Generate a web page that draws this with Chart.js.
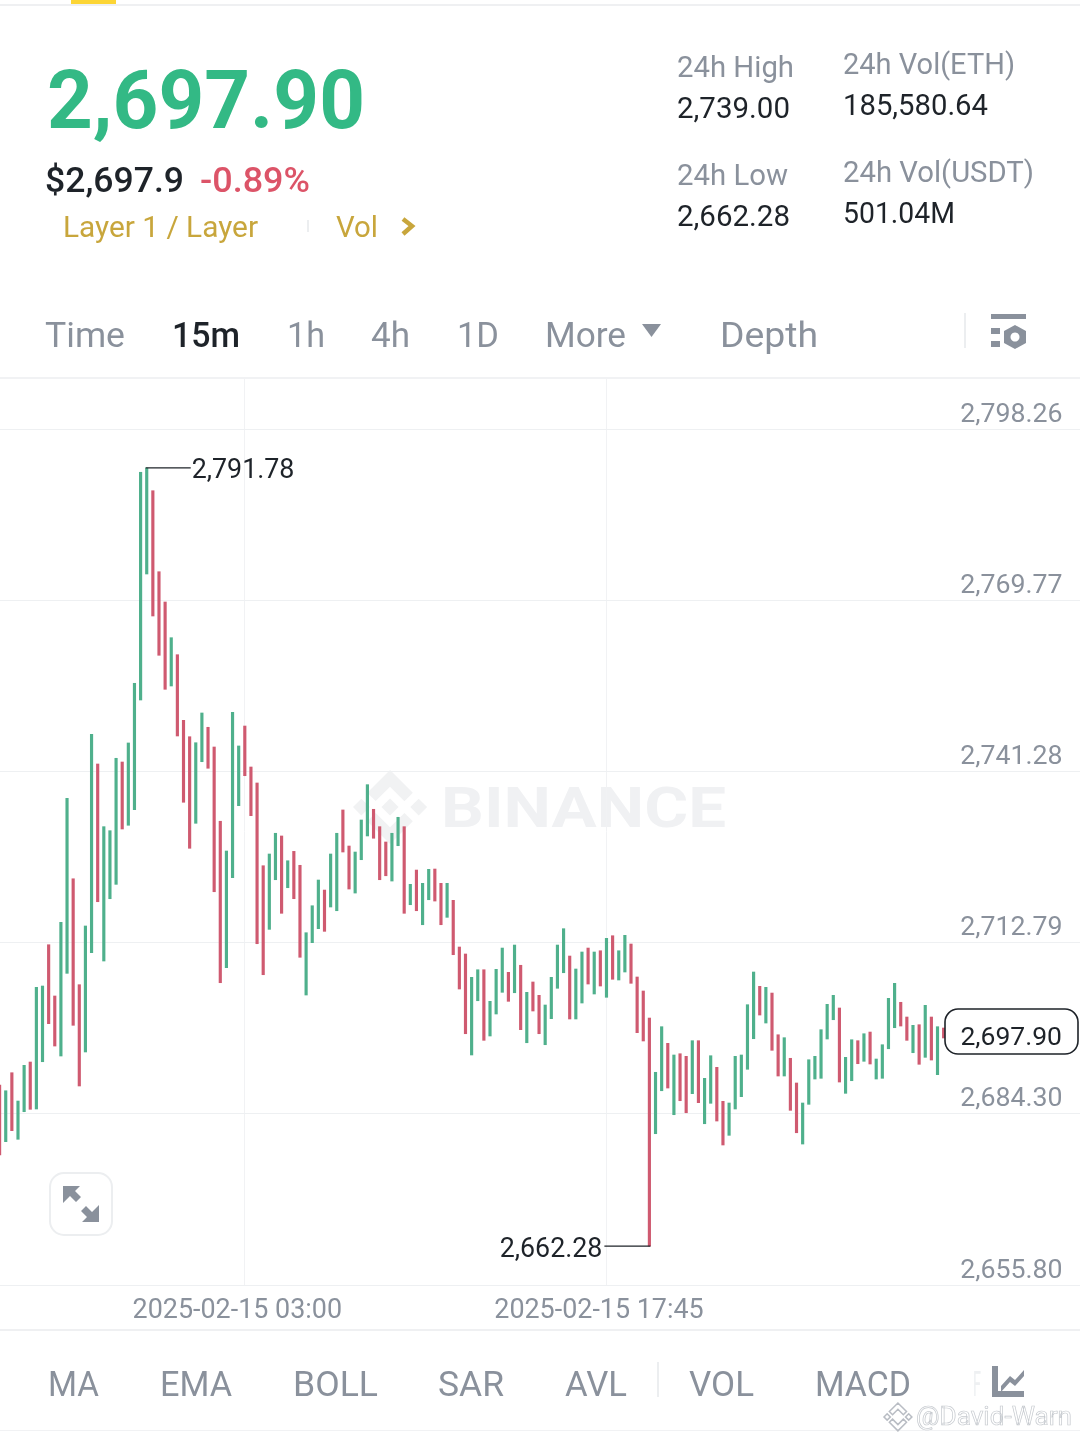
<!DOCTYPE html>
<html><head><meta charset="utf-8">
<script src="https://cdn.jsdelivr.net/npm/chart.js@4"></script>
<style>
html,body{margin:0;padding:0;background:#fff;width:1080px;height:1437px;overflow:hidden;font-family:Roboto,sans-serif}
#stage{position:relative;width:1080px;height:1437px;overflow:hidden}
#chart{position:absolute;left:0;top:0;z-index:1}
.t{position:absolute;white-space:nowrap;line-height:1;transform-origin:0 50%;z-index:2}
.r{position:absolute;z-index:2}
svg{position:absolute;z-index:2;overflow:visible}
</style></head><body><div id="stage">
<div class="r" style="left:0;top:4px;width:1080px;height:2px;background:#eff0f2"></div>
<div class="r" style="left:71px;top:0;width:45px;height:4px;background:#fcd535"></div>
<div class="r" style="left:307px;top:220px;width:2px;height:12px;background:#eceef0"></div>
<div class="r" style="left:964px;top:313px;width:2px;height:35px;background:#eceef0"></div>
<div class="r" style="left:0;top:377px;width:1080px;height:2px;background:#f1f2f4"></div>
<div class="r" style="left:0;top:1329px;width:1080px;height:2px;background:#eff0f2"></div>
<div class="r" style="left:0;top:1430px;width:1080px;height:1px;background:#f1f2f4"></div>
<div class="r" style="left:657px;top:1362px;width:2px;height:35px;background:#eceef0"></div>
<div class="r" style="left:49px;top:1172px;width:60px;height:60px;border:2px solid #eceef0;border-radius:15px;background:#fff;padding:0"></div>
<svg style="left:0;top:0" width="1080" height="1437" viewBox="0 0 1080 1437">
  <path d="M403 219l9 7-9 8" fill="none" stroke="#c8a63c" stroke-width="4.500"/>
  <path d="M642 324h19l-9.500 13z" fill="#8a919c"/>
  <g fill="#8a919c">
    <rect x="991" y="314" width="35" height="5"/>
    <rect x="991" y="328" width="9" height="6"/>
    <rect x="991" y="341" width="9" height="6"/>
    <path fill-rule="evenodd" d="M1015 325l11 6v12l-11 6-11-6v-12zM1015 332.500a4.500 4.500 0 1 0 .01 0z"/>
  </g>
  <g fill="#8a919c">
    <path d="M63 1186h17l-5 5 6 6-5 5-6-6-7 7z"/>
    <path d="M99 1222h-17l5-5-6-6 5-5 6 6 7-7z"/>
  </g>
  <g fill="#8a919c">
    <path d="M992 1366h6v25h26v6h-32z"/>
    <path d="M1001 1386l9-10 5 4 9-10v6l-9 10-5-4-9 10z"/>
  </g>
  <g transform="translate(884 1403) scale(.22)" fill="none" stroke="#b9bdc4" stroke-width="7">
    <path d="M38.730 53.200l24.590-24.580 24.600 24.600 14.300-14.310L63.320 0 24.420 38.900l14.310 14.300zM0 63.310l14.300-14.310 14.310 14.310-14.310 14.300zM38.730 73.410l24.590 24.590 24.600-24.600 14.310 14.290-38.900 38.910-38.910-38.880zM98 63.310l14.300-14.310 14.310 14.300-14.310 14.320z"/>
  </g>
</svg>
<svg style="left:0;top:0;z-index:0" width="1080" height="1437" viewBox="0 0 1080 1437">
  <g transform="translate(353 770) scale(.585)" fill="#f1f2f3">
    <path d="M38.730 53.200l24.590-24.580 24.600 24.600 14.300-14.310L63.320 0 24.420 38.900l14.310 14.300zM0 63.310l14.300-14.310 14.310 14.310-14.310 14.300zM38.730 73.410l24.590 24.590 24.600-24.600 14.310 14.290-38.900 38.910-38.910-38.880zM98 63.310l14.300-14.310 14.310 14.300-14.310 14.320zM77.830 63.300L63.320 48.780 52.590 59.510l-1.240 1.230-2.540 2.540 14.510 14.500 14.510-14.470z"/>
  </g>
</svg>
<canvas id="chart" width="1080" height="1437"></canvas>
</div>
<script>
// ---- chart data ----
const candleHigh = [
2689.08,2688.13,2691.13,2686.42,2692.36,2692.91,2705.34,2705.56,2712.43,2703.90,
2716.16,2736.80,2723.41,2705.78,2715.55,2747.45,2742.51,2732.08,2731.41,2743.46,
2742.84,2746.01,2755.94,2791.06,2791.78,2787.99,2774.51,2769.47,2763.53,2760.70,
2749.78,2747.05,2746.05,2751.00,2748.62,2745.34,2732.98,2728.03,2751.11,2745.51,
2748.83,2742.01,2739.35,2725.58,2727.53,2730.98,2730.53,2726.41,2727.97,2725.65,
2714.43,2718.92,2723.20,2721.53,2727.53,2730.98,2734.86,2728.86,2727.86,2733.19,
2739.07,2734.97,2732.08,2729.53,2730.98,2733.64,2732.08,2722.48,2724.86,2722.65,
2724.98,2725.03,2722.65,2722.65,2719.82,2712.05,2710.89,2707.01,2708.27,2708.27,
2703.01,2708.34,2711.88,2707.84,2712.38,2709.01,2704.51,2706.23,2704.01,2702.40,
2707.01,2712.38,2715.10,2710.55,2708.39,2711.22,2711.88,2711.22,2711.43,2713.50,
2713.93,2711.43,2714.00,2712.55,2707.06,2704.73,2700.23,2691.20,2698.79,2696.02,
2694.08,2694.29,2693.86,2696.46,2696.46,2690.20,2693.96,2692.03,2686.37,2686.09,
2693.86,2694.08,2702.45,2707.89,2705.51,2705.34,2704.39,2697.45,2696.96,2693.53,
2689.42,2686.09,2693.29,2693.86,2698.29,2702.51,2704.01,2701.90,2693.69,2696.62,
2696.46,2697.62,2697.90,2693.41,2695.79,2703.51,2706.01,2702.85,2700.40,2699.02,
2699.12,2702.35,2700.40,2698.79,2698.57];
const candleLow = [
2677.43,2679.65,2681.48,2680.05,2684.64,2685.04,2685.09,2692.96,2699.29,2695.57,
2693.91,2707.67,2699.02,2688.92,2694.58,2711.10,2719.59,2709.72,2720.09,2722.48,
2731.69,2732.31,2734.91,2753.16,2774.13,2767.14,2760.60,2754.94,2755.49,2747.17,
2736.14,2728.48,2732.64,2742.89,2741.80,2721.25,2706.11,2708.61,2723.58,2735.57,
2740.56,2733.91,2712.60,2707.44,2714.99,2723.25,2717.66,2721.92,2720.09,2710.34,
2704.06,2712.77,2715.10,2714.66,2718.71,2718.09,2727.86,2721.70,2721.03,2726.58,
2730.53,2730.15,2723.25,2723.91,2723.03,2728.91,2717.66,2719.09,2718.09,2715.76,
2719.92,2719.70,2715.76,2716.99,2710.77,2705.06,2697.62,2694.08,2703.11,2696.52,
2697.24,2700.90,2704.51,2703.01,2704.44,2698.29,2696.12,2701.40,2697.62,2695.79,
2700.12,2705.18,2707.77,2700.07,2700.07,2702.73,2705.89,2704.23,2705.56,2703.68,
2706.68,2706.56,2707.89,2706.01,2697.79,2696.41,2662.28,2680.98,2688.13,2688.58,
2684.14,2686.47,2684.47,2687.64,2686.14,2682.64,2686.04,2683.09,2679.10,2680.71,
2685.09,2687.14,2691.70,2696.79,2700.73,2699.40,2694.86,2690.58,2690.58,2684.87,
2681.14,2679.26,2685.87,2690.08,2690.20,2696.74,2699.95,2689.58,2687.70,2689.80,
2692.63,2693.03,2692.58,2690.08,2690.20,2695.12,2698.62,2698.90,2696.52,2694.46,
2692.53,2693.69,2693.24,2690.80,2696.91];
const candleDirection = (
"r g r g g r g g r r " + "g g r r g g r g g g " + "r g g g g r r r g r " + "r r g g r r r g g g " +
"r r r r g g r g r r " + "g g g r g g r r g g " + "g r r r g g r g r g " + "g r r g r r r g g r " +
"g g g r g r g r r g " + "g g g r g g r g r g " + "r g g r r r r g g r " + "g r r g r g g r r g " +
"g g g g r g r r g r " + "r g g g g g g r g g " + "r g r g g g g r r g " + "r g r g r").trim().split(" ");
const yTickValues = [2798.26,2769.77,2741.28,2712.79,2684.30,2655.80];
const xTickIndexes = [40,99];
const xTickLabels = ["2025-02-15 03:00","2025-02-15 17:45"];
const lastPrice = 2697.90;
const highMark = 2791.78;
const lowMark = 2662.28;

const fmt = v => v.toLocaleString("en-US",{minimumFractionDigits:2,maximumFractionDigits:2});
const UP="#4fb08c", DOWN="#cf5a70", INK="#1e2329", GREY="#8a919c", GRID="#eef0f2";

// ---- header / footer text ----
const texts = [
 ["2,697.90",47,365,99,81,"#33b985",700],
 ["$2,697.9",45,184,179.5,35,INK,500],
 ["-0.89%",200,310,179.5,35,"#dc5468",500],
 ["Layer 1 / Layer",63,258,227,29,"#c8a63c",400],
 ["Vol",336,378,227,29,"#c8a63c",400],
 ["24h High",677,794,67,29,GREY,400],
 ["2,739.00",677,790,108,29,INK,400],
 ["24h Low",677,788,175,29,GREY,400],
 ["2,662.28",677,790,216.5,29,INK,400],
 ["24h Vol(ETH)",843,1015,64,29,GREY,400],
 ["185,580.64",843,988,105.5,29,INK,400],
 ["24h Vol(USDT)",843,1034,172,29,GREY,400],
 ["501.04M",843,955,213,29,INK,400],
 ["Time",45,125,334.500,35,GREY,400],
 ["15m",172,240,334.500,35,INK,500],
 ["1h",287,325,334.500,35,GREY,400],
 ["4h",371,410,334.500,35,GREY,400],
 ["1D",457,499,334.500,35,GREY,400],
 ["More",545,626,334.500,35,GREY,400],
 ["Depth",720,818,334.500,35,GREY,400],
 ["MA",48,99,1383.500,35,GREY,400],
 ["EMA",160,232,1383.500,35,GREY,400],
 ["BOLL",293,378,1383.500,35,GREY,400],
 ["SAR",438,504,1383.500,35,GREY,400],
 ["AVL",565,627,1383.500,35,GREY,400],
 ["VOL",689,754,1383.500,35,GREY,400],
 ["MACD",815,911,1383.500,35,GREY,400],
 ["F",973,981,1383.500,35,"#eef0f2",400],
];
const stage=document.getElementById("stage");
function addText(t,x0,x1,cy,size,color,weight,z,extra){
  const s=document.createElement("span");
  s.className="t"; s.textContent=t;
  s.style.cssText=`left:${x0}px;top:${cy-0.485*size}px;font-size:${size}px;color:${color};font-weight:${weight};`+(z!==undefined?`z-index:${z};`:"")+(extra||"");
  stage.appendChild(s);
  const w=s.getBoundingClientRect().width;
  s.style.transform=`scaleX(${(x1-x0)/w})`;
}
texts.forEach(a=>addText(...a));
addText("BINANCE",441,726,807,56,"#f0f1f3",700,0);
addText("@David-Warn",916,1072,1416,26,"#ffffff",400,2,"-webkit-text-stroke:.7px #c6cacf;");

// ---- chart ----
const annotate = {
  id:"annotate",
  afterDatasetsDraw(c){
    const g=c.ctx, xs=c.scales.x, ys=c.scales.y;
    const hiI=candleHigh.indexOf(highMark), loI=candleLow.indexOf(lowMark);
    g.save();
    g.font="400 26.8px Roboto"; g.fillStyle=INK; g.strokeStyle=INK; g.lineWidth=1.3; g.textBaseline="middle";
    const hx=xs.getPixelForValue(hiI), hy=ys.getPixelForValue(highMark);
    g.beginPath(); g.moveTo(hx-1,hy); g.lineTo(hx+44,hy); g.stroke();
    g.textAlign="left"; g.fillText(fmt(highMark),hx+45,hy+3);
    const lx=xs.getPixelForValue(loI), ly=ys.getPixelForValue(lowMark);
    g.beginPath(); g.moveTo(lx+1,ly); g.lineTo(lx-45,ly); g.stroke();
    g.textAlign="right"; g.fillText(fmt(lowMark),lx-47,ly+4);
    // current price pill
    const py=ys.getPixelForValue(lastPrice);
    g.beginPath(); g.roundRect(945,py-23,133,45,13); g.fillStyle="#fff"; g.fill();
    g.lineWidth=1.6; g.stroke();
    g.font="400 26.5px Roboto";
    g.fillStyle=INK; g.textAlign="right"; g.fillText(fmt(lastPrice),1062,py+6);
    g.restore();
  }
};
new Chart(document.getElementById("chart"),{
  type:"bar",
  data:{datasets:[{
    data:candleHigh.map((h,i)=>({x:i,y:[candleLow[i],h]})),
    backgroundColor:candleDirection.map(d=>d==="g"?UP:DOWN),
    borderWidth:0,barThickness:2.5
  }]},
  plugins:[annotate],
  options:{
    responsive:false,animation:false,devicePixelRatio:1,
    layout:{padding:{top:378,left:0,right:0,bottom:0}},
    plugins:{legend:{display:false},tooltip:{enabled:false},title:{display:false}},
    scales:{
      x:{type:"linear",min:0.065,max:176.245,offset:false,
        afterBuildTicks:s=>{s.ticks=xTickIndexes.map(v=>({value:v}));},
        afterFit:s=>{s.height=152;},
        border:{display:false},
        grid:{offset:false,color:"#f1f2f4",lineWidth:1,drawTicks:false,tickLength:0},
        ticks:{autoSkip:false,maxRotation:0,padding:10,labelOffset:-7.5,color:GREY,font:{family:"Roboto",size:26.9},
          callback:v=>xTickLabels[xTickIndexes.indexOf(v)]}
      },
      y:{type:"linear",position:"right",min:2655.80,max:2806.75,
        afterBuildTicks:s=>{s.ticks=yTickValues.map(v=>({value:v}));},
        afterFit:s=>{s.width=0;},
        border:{display:false},
        grid:{color:GRID,lineWidth:1,drawTicks:false,tickLength:0},
        ticks:{mirror:true,padding:-17.5,labelOffset:-14,autoSkip:false,color:GREY,font:{family:"Roboto",size:26.7},
          callback:v=>fmt(v)}
      }
    }
  }
});
</script></body></html>
